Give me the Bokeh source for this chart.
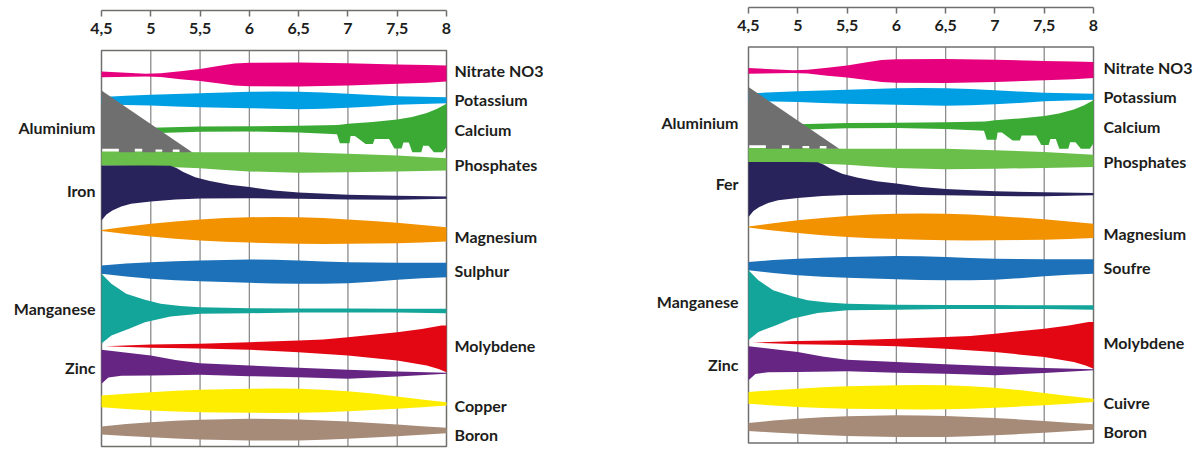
from bokeh.plotting import figure
from bokeh.layouts import row, column
from bokeh.models import Range1d, FixedTicker
from bokeh.core.properties import value
from bokeh.embed import file_html
from bokeh.resources import INLINE

# ---------------- data (pH on x, vertical position of each band edge on y) ----------------
PH_TICKS = [4.5, 5.0, 5.5, 6.0, 6.5, 7.0, 7.5, 8.0]
PH_TICK_LABELS = ["4,5", "5", "5,5", "6", "6,5", "7", "7,5", "8"]

Q_PH = [4.5, 4.75, 5.0, 5.25, 5.5, 5.75, 6.0, 6.25, 6.5, 6.75, 7.0, 7.25, 7.5, 7.75, 8.0]

NITRATE_PH = [4.5, 4.95, 5.1, 5.3, 5.5, 5.7, 5.85, 6.0, 6.5, 7.0, 7.5, 7.8, 8.0]
NITRATE_TOP = [71.0, 73.3, 72.8, 70.8, 68.5, 65.2, 63.0, 62.3, 62.0, 62.7, 64.0, 64.6, 65.0]
NITRATE_BOT = [76.7, 76.0, 76.5, 78.7, 80.5, 83.0, 85.0, 85.7, 86.0, 85.0, 83.3, 82.3, 81.0]

POTASSIUM_TOP = [96.5, 95.3, 94.3, 93.4, 92.7, 91.9, 91.3, 91.1, 91.3, 92.1, 93.3, 94.6, 95.7, 96.3, 96.7]
POTASSIUM_BOT = [104.0, 104.5, 105.0, 105.9, 106.7, 107.3, 107.7, 108.3, 108.7, 108.2, 107.3, 105.9, 104.3, 103.4, 102.7]

CALCIUM_TOP_PH = [4.85, 5.0, 5.5, 6.0, 6.5, 6.9, 7.0, 7.25, 7.5, 7.65, 7.8, 7.9, 8.0]
CALCIUM_TOP = [127.5, 127.3, 126.0, 125.7, 125.3, 124.5, 123.3, 121.5, 119.0, 116.5, 112.5, 108.5, 103.3]
CALCIUM_BOT_PH = [4.85, 5.0, 5.5, 6.0, 6.5, 6.889, 6.918, 7.016, 7.027, 7.071, 7.18, 7.253,
                  7.271, 7.417, 7.471, 7.545, 7.563, 7.618, 7.653, 7.744, 7.763, 7.817,
                  7.872, 7.963, 8.0]
CALCIUM_BOT = [133.0, 132.7, 131.3, 131.0, 132.0, 133.7, 142.7, 142.7, 135.5, 135.5, 143.4, 143.4,
               138.4, 138.4, 148.1, 148.1, 142.0, 142.0, 151.7, 151.7, 145.2, 145.2,
               151.7, 151.7, 146.3]

PHOSPHATES_PH = [4.5, 5.0, 5.5, 5.75, 6.0, 6.5, 7.0, 7.5, 8.0]
PHOSPHATES_TOP = [151.0, 151.0, 151.7, 151.7, 151.7, 151.7, 153.3, 155.0, 157.7]
PHOSPHATES_BOT = [165.0, 165.7, 167.7, 169.5, 171.0, 172.3, 171.7, 171.0, 170.0]

ALUMINIUM_PH = [4.5, 5.42, 5.291, 5.291, 5.223, 5.223, 5.116, 5.116, 5.048, 5.048,
                4.913, 4.913, 4.838, 4.838, 4.676, 4.676, 4.5]
ALUMINIUM_Y = [90.0, 151.7, 151.7, 149.0, 149.0, 151.7, 151.7, 149.0, 149.0, 151.7,
               151.7, 148.3, 148.3, 151.7, 151.7, 148.3, 148.3]

IRON_TOP_PH = [4.5, 5.0, 5.2, 5.26, 5.33, 5.45, 5.6, 5.8, 6.0, 6.25, 6.5, 7.0, 7.5, 8.0]
IRON_TOP = [165.0, 165.0, 165.3, 167.5, 171.5, 176.7, 180.5, 184.3, 186.5, 190.0, 192.0, 194.3, 195.2, 196.0]
IRON_BOT_PH = [4.5, 4.55, 4.61, 4.7, 4.8, 5.0, 5.25, 5.5, 6.0, 6.5, 7.0, 7.5, 8.0]
IRON_BOT = [220.0, 214.0, 210.0, 206.0, 203.3, 201.0, 199.0, 198.0, 197.7, 198.3, 199.0, 199.3, 198.3]

MAGNESIUM_TOP = [229.5, 226.2, 223.3, 221.0, 219.0, 217.6, 216.7, 216.4, 216.7, 217.6, 219.0, 220.6, 222.3, 224.4, 226.7]
MAGNESIUM_BOT = [230.5, 233.5, 236.0, 238.2, 240.0, 241.2, 242.0, 242.8, 243.3, 243.5, 243.3, 243.1, 242.7, 241.9, 241.0]

SULPHUR_TOP = [265.0, 263.1, 261.7, 260.7, 260.0, 259.4, 259.0, 259.3, 260.0, 260.9, 261.7, 262.1, 262.3, 262.3, 262.3]
SULPHUR_BOT = [273.3, 276.1, 278.3, 279.7, 280.7, 281.6, 282.3, 282.9, 283.3, 283.2, 282.7, 281.2, 279.3, 277.8, 276.7]

MANGANESE_TOP_PH = [4.5, 4.6, 4.75, 4.94, 5.1, 5.3, 5.5, 6.0, 6.5, 7.0, 7.5, 8.0]
MANGANESE_TOP = [273.3, 283.3, 293.3, 299.3, 303.3, 305.5, 306.7, 307.7, 308.0, 308.0, 308.3, 308.3]
MANGANESE_BOT_PH = [4.5, 4.6, 4.78, 4.94, 5.2, 5.5, 6.0, 6.5, 7.0, 7.5, 8.0]
MANGANESE_BOT = [343.0, 335.0, 328.3, 321.7, 316.0, 313.3, 312.7, 312.0, 312.0, 312.0, 312.7]

MOLYBDENE_TOP_PH = [4.54, 5.0, 5.5, 6.0, 6.5, 6.75, 7.0, 7.5, 7.75, 7.95, 8.0]
MOLYBDENE_TOP = [345.7, 344.0, 343.3, 341.7, 340.0, 339.0, 336.7, 331.7, 328.5, 325.0, 325.0]
MOLYBDENE_BOT_PH = [4.54, 5.0, 5.5, 6.0, 6.5, 7.0, 7.5, 7.8, 7.92, 8.0]
MOLYBDENE_BOT = [345.7, 347.3, 348.0, 349.3, 351.7, 355.0, 360.0, 365.0, 368.5, 371.7]

ZINC_TOP_PH = [4.5, 5.0, 5.25, 5.5, 6.0, 6.5, 7.0, 7.5, 8.0]
ZINC_TOP = [349.3, 355.0, 359.5, 362.7, 365.0, 367.3, 369.3, 371.0, 372.3]
ZINC_BOT_PH = [4.5, 4.57, 4.7, 5.0, 5.5, 6.0, 6.5, 7.0, 7.5, 8.0]
ZINC_BOT = [383.3, 377.0, 375.3, 375.0, 374.3, 375.7, 376.7, 378.3, 376.0, 373.3]

COPPER_TOP = [395.0, 393.2, 391.7, 390.3, 389.3, 388.7, 388.3, 388.1, 388.3, 389.2, 390.7, 393.1, 396.0, 398.9, 401.7]
COPPER_BOT = [406.7, 408.5, 410.0, 411.0, 411.7, 412.1, 412.3, 412.4, 412.3, 411.7, 410.7, 409.6, 408.3, 406.7, 405.0]

BORON_TOP = [426.0, 423.6, 421.7, 420.3, 419.3, 418.7, 418.3, 418.5, 419.0, 419.9, 421.0, 422.4, 424.0, 425.7, 427.3]
BORON_BOT = [434.0, 435.5, 436.7, 438.0, 439.0, 439.6, 440.0, 440.1, 440.0, 439.3, 438.3, 437.1, 435.7, 434.2, 432.7]

RIGHT_LABELS_EN = ["Nitrate NO3", "Potassium", "Calcium", "Phosphates", "Magnesium",
                   "Sulphur", "Molybdene", "Copper", "Boron"]
RIGHT_LABELS_FR = ["Nitrate NO3", "Potassium", "Calcium", "Phosphates", "Magnesium",
                   "Soufre", "Molybdene", "Cuivre", "Boron"]
RIGHT_LABEL_Y = [70, 99, 129, 164, 236, 270, 345, 405, 434]
LEFT_LABELS_EN = ["Aluminium", "Iron", "Manganese", "Zinc"]
LEFT_LABELS_FR = ["Aluminium", "Fer", "Manganese", "Zinc"]
LEFT_LABEL_Y_EN = [127, 190, 308, 367]
LEFT_LABEL_Y_FR = [125.5, 186.5, 304.5, 367.5]

BOX_TOP, BOX_BOTTOM = 50, 446.0

# ---------------- style / layout ----------------
PAGE_H = 453
PANEL_W = 600
BOX_W_PX = 345
AXIS_PANEL = 36
TEXT_COLOR = "#1d1d1b"
FONT = "Lato"
LABEL_SIZE = "16px"


def band(top_ph, top_y, bot_ph, bot_y):
    return list(top_ph) + list(bot_ph)[::-1], list(top_y) + list(bot_y)[::-1]


BANDS = [
    (band(NITRATE_PH, NITRATE_TOP, NITRATE_PH, NITRATE_BOT), "#e6007e"),
    (band(Q_PH, POTASSIUM_TOP, Q_PH, POTASSIUM_BOT), "#009fe3"),
    (band(CALCIUM_TOP_PH, CALCIUM_TOP, CALCIUM_BOT_PH, CALCIUM_BOT), "#3aaa35"),
    (band(PHOSPHATES_PH, PHOSPHATES_TOP, PHOSPHATES_PH, PHOSPHATES_BOT), "#6abf4b"),
    ((ALUMINIUM_PH, ALUMINIUM_Y), "#706f6f"),
    (band(IRON_TOP_PH, IRON_TOP, IRON_BOT_PH, IRON_BOT), "#29235c"),
    (band(Q_PH, MAGNESIUM_TOP, Q_PH, MAGNESIUM_BOT), "#f39200"),
    (band(MANGANESE_TOP_PH, MANGANESE_TOP, MANGANESE_BOT_PH, MANGANESE_BOT), "#13a49a"),
    (band(Q_PH, SULPHUR_TOP, Q_PH, SULPHUR_BOT), "#1d71b8"),
    (band(MOLYBDENE_TOP_PH, MOLYBDENE_TOP, MOLYBDENE_BOT_PH, MOLYBDENE_BOT), "#e30613"),
    (band(ZINC_TOP_PH, ZINC_TOP, ZINC_BOT_PH, ZINC_BOT), "#662483"),
    (band(Q_PH, COPPER_TOP, Q_PH, COPPER_BOT), "#ffed00"),
    (band(Q_PH, BORON_TOP, Q_PH, BORON_BOT), "#a68b79"),
]


def build_panel(right_labels, left_labels, left_label_y, box_left_px, axis_line_px, y_shift,
                gap_r_px, gap_l_px):
    k = BOX_W_PX / (PH_TICKS[-1] - PH_TICKS[0])
    x0 = PH_TICKS[0] - box_left_px / k
    xr = Range1d(x0, x0 + PANEL_W / k)

    top = figure(width=PANEL_W, frame_height=axis_line_px, x_range=xr, y_range=Range1d(0, 1),
                 y_axis_location=None, x_axis_location="below", toolbar_location=None,
                 output_backend="svg", min_border_left=0, min_border_right=0,
                 min_border_top=0, min_border_bottom=AXIS_PANEL, outline_line_color=None)
    top.grid.visible = False
    ax = top.xaxis[0]
    ax.bounds = (PH_TICKS[0], PH_TICKS[-1])
    ax.ticker = FixedTicker(ticks=PH_TICKS)
    ax.major_label_overrides = dict(zip(PH_TICKS, PH_TICK_LABELS))
    ax.axis_line_color = "#6f6f6e"
    ax.axis_line_width = 1.5
    ax.major_tick_line_color = "#6f6f6e"
    ax.major_tick_line_width = 1.5
    ax.major_tick_out = 6
    ax.major_tick_in = 0
    ax.minor_tick_line_color = None
    ax.major_label_standoff = 6
    ax.major_label_text_font = FONT
    ax.major_label_text_font_style = "bold"
    ax.major_label_text_font_size = "16px"
    ax.major_label_text_color = TEXT_COLOR

    main_top = axis_line_px + AXIS_PANEL
    main = figure(width=PANEL_W, height=PAGE_H - main_top, x_range=xr,
                  y_range=Range1d(PAGE_H + y_shift, main_top + y_shift),
                  x_axis_location=None, y_axis_location=None, toolbar_location=None,
                  output_backend="svg", min_border_left=0, min_border_right=0,
                  min_border_top=0, min_border_bottom=0, outline_line_color=None)
    main.grid.visible = False

    inner = PH_TICKS[1:-1]
    main.segment(x0=inner, y0=[BOX_TOP] * len(inner), x1=inner, y1=[BOX_BOTTOM] * len(inner),
                 line_color="#8c8c8c", line_width=1.3)
    main.quad(left=[PH_TICKS[0]], right=[PH_TICKS[-1]], top=[BOX_TOP], bottom=[BOX_BOTTOM],
              fill_color=None, line_color="#6f6f6e", line_width=1.5)

    for (xs, ys), color in BANDS:
        main.patch(x=xs, y=ys, fill_color=color, line_color=None)

    main.text(x=[PH_TICKS[-1] + gap_r_px / k] * len(right_labels), y=RIGHT_LABEL_Y,
              text=right_labels, text_align="left", text_baseline="middle",
              text_font=value(FONT), text_font_style="bold", text_font_size=LABEL_SIZE,
              text_color=TEXT_COLOR)
    main.text(x=[PH_TICKS[0] - gap_l_px / k] * len(left_labels), y=left_label_y,
              text=left_labels, text_align="right", text_baseline="middle",
              text_font=value(FONT), text_font_style="bold", text_font_size=LABEL_SIZE,
              text_color=TEXT_COLOR)
    return column(top, main)


left_panel = build_panel(RIGHT_LABELS_EN, LEFT_LABELS_EN, LEFT_LABEL_Y_EN, 101, 10, 0.0, 8, 6)
right_panel = build_panel(RIGHT_LABELS_FR, LEFT_LABELS_FR, LEFT_LABEL_Y_FR, 148, 7, 3.5, 10, 10)
layout = row(left_panel, right_panel)

open("out.html", "w").write(file_html(layout, INLINE))
